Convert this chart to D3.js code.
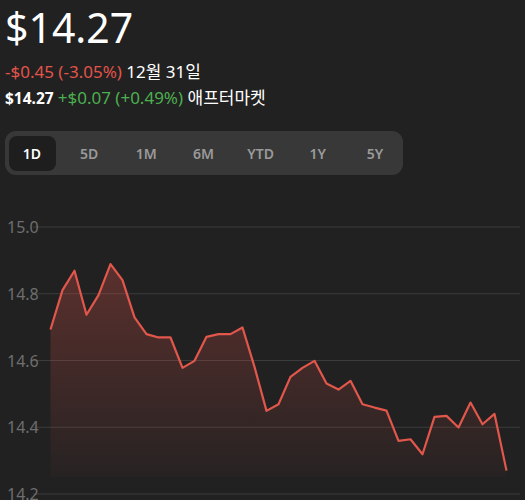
<!DOCTYPE html>
<html><head><meta charset="utf-8">
<script src="https://cdn.jsdelivr.net/npm/d3@7"></script>
<style>body{margin:0;background:#212121;}svg{display:block}</style>
</head><body>
<script>
const prices = [14.693,14.811,14.869,14.737,14.796,14.889,14.841,14.729,14.679,14.669,14.669,14.578,14.599,14.671,14.679,14.679,14.699,14.581,14.449,14.469,14.551,14.578,14.599,14.531,14.513,14.539,14.469,14.459,14.45,14.359,14.364,14.319,14.431,14.434,14.399,14.474,14.409,14.44,14.27];
const yTicks = [14.2,14.4,14.6,14.8,15.0];
const ranges = ["1D","5D","1M","6M","YTD","1Y","5Y"];
const font = "'Segoe UI','Noto Sans','Noto Sans CJK KR',sans-serif";

const svg = d3.select("body").append("svg").attr("width",525).attr("height",500).style("font-family",font);
svg.append("rect").attr("width",525).attr("height",500).attr("fill","#212121");

svg.append("text").attr("x",5).attr("y",43).attr("font-size",41).attr("fill","#fff").text("$14.27");
const l2 = svg.append("text").attr("x",5).attr("y",78).attr("font-size",17);
l2.append("tspan").attr("fill","#e2544a").text("-$0.45 (-3.05%) ");
l2.append("tspan").attr("fill","#fff").text("12월 31일");
const l3 = svg.append("text").attr("x",5).attr("y",104).attr("font-size",17);
l3.append("tspan").attr("fill","#fff").attr("font-weight","bold").attr("font-size",15.5).text("$14.27 ");
l3.append("tspan").attr("fill","#4caf50").text("+$0.07 (+0.49%) ");
l3.append("tspan").attr("fill","#fff").text("애프터마켓");

svg.append("rect").attr("x",5).attr("y",131).attr("width",398).attr("height",44).attr("rx",11).attr("fill","#383838");
svg.append("rect").attr("x",9).attr("y",136).attr("width",47).attr("height",35).attr("rx",8).attr("fill","#1e1e1e");
const bx = d3.scalePoint().domain(ranges).range([32,375]);
svg.selectAll(".rg").data(ranges).join("text").attr("x",d=>bx(d)).attr("y",159).attr("text-anchor","middle")
  .attr("font-size",14).attr("font-weight",600).attr("fill",(d,i)=>i===0?"#fff":"#9a9a9a").text(d=>d);

const y = d3.scaleLinear().domain([14.2,15.0]).range([494,227]);
const x = d3.scaleLinear().domain([0,prices.length-1]).range([50.5,506.5]);
svg.selectAll(".g").data(yTicks).join("line").attr("x1",33).attr("x2",520).attr("y1",d=>y(d)).attr("y2",d=>y(d)).attr("stroke","#3c3c3c");
svg.selectAll(".t").data(yTicks).join("text").attr("x",7).attr("y",d=>y(d)+6).attr("font-size",16).attr("fill","#6e6e6e").text(d=>d.toFixed(1));

const grad = svg.append("defs").append("linearGradient").attr("id","gr").attr("x1",0).attr("x2",0).attr("y1",0).attr("y2",1);
grad.append("stop").attr("offset","0%").attr("stop-color","#e2544a").attr("stop-opacity",0.3);
grad.append("stop").attr("offset","100%").attr("stop-color","#e2544a").attr("stop-opacity",0.03);
svg.append("path").datum(prices).attr("fill","url(#gr)")
  .attr("d",d3.area().x((d,i)=>x(i)).y0(y(14.25)).y1(d=>y(d)));
svg.append("path").datum(prices).attr("fill","none").attr("stroke","#e2574c").attr("stroke-width",2.2).attr("stroke-linejoin","round")
  .attr("d",d3.line().x((d,i)=>x(i)).y(d=>y(d)));
</script>
</body></html>
